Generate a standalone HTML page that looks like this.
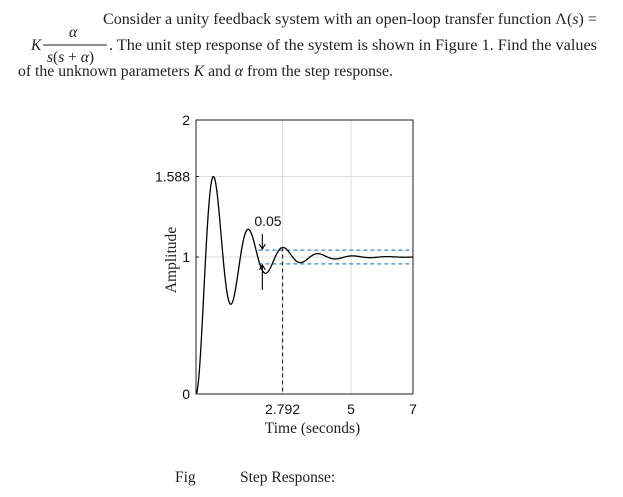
<!DOCTYPE html>
<html><head><meta charset="utf-8"><style>
body{margin:0;background:#fff;width:623px;height:497px;overflow:hidden}
svg{display:block}
.s{font-family:"Liberation Serif",serif;font-size:15.5px;fill:#222}
.t{font-family:"Liberation Sans",sans-serif;font-size:14px;fill:#111}
</style></head><body>
<svg width="623" height="497">
<g>
<text class="s" x="103" y="24" textLength="494" lengthAdjust="spacingAndGlyphs">Consider a unity feedback system with an open-loop transfer function Λ(<tspan font-style="italic">s</tspan>) =</text>
<text class="s" x="31" y="50" font-style="italic">K</text>
<text class="s" x="69" y="37" font-style="italic" font-size="13">α</text>
<line x1="43" y1="45" x2="107" y2="45" stroke="#222" stroke-width="0.9"/>
<text class="s" x="47" y="62"><tspan font-style="italic">s</tspan>(<tspan font-style="italic">s</tspan> + <tspan font-style="italic">α</tspan>)</text>
<text class="s" x="109" y="50" textLength="488" lengthAdjust="spacingAndGlyphs">. The unit step response of the system is shown in Figure 1. Find the values</text>
<text class="s" x="18" y="76" textLength="375" lengthAdjust="spacingAndGlyphs">of the unknown parameters <tspan font-style="italic">K</tspan> and <tspan font-style="italic">α</tspan> from the step response.</text>
</g>
<g id="chart"></g>
<text class="s" x="175" y="482">Fig</text>
<text class="s" x="240" y="482">Step Response:</text>
</svg>
<script>
const zeta=[0.167];
const wnat=[5.68];
const yTicks=[0,1,1.588,2];
const yTickLabels=["0","1","1.588","2"];
const xTicks=[2.792,5,7];
const xTickLabels=["2.792","5","7"];
const settleBand=[0.95,1.05];
const settleTime=[2.792];
const arrowTime=[2.14];
const X0=196,X1=413,Y0=394,Y1=120,TMAX=7,YMAX=2;
const sx=t=>X0+(X1-X0)*t/TMAX, sy=v=>Y0-(Y0-Y1)*v/YMAX;
const NS="http://www.w3.org/2000/svg";
const g=document.getElementById('chart');
function mk(tag,a){const e=document.createElementNS(NS,tag);for(const k in a)e.setAttribute(k,a[k]);g.appendChild(e);return e;}
yTicks.forEach((v,i)=>{if(v>0&&v<YMAX){const l=mk('line',{x1:X0,x2:X1,y1:sy(v),y2:sy(v),stroke:'#ddd','stroke-width':1});

}});
xTicks.forEach(v=>{if(v<TMAX){const l=mk('line',{x1:sx(v),x2:sx(v),y1:Y0,y2:Y1,stroke:'#ddd','stroke-width':1});

}});
const z=zeta[0],wn=wnat[0],wd=wn*Math.sqrt(1-z*z),ph=Math.acos(z);
const resp=t=>1-Math.exp(-z*wn*t)/Math.sqrt(1-z*z)*Math.sin(wd*t+ph);
let d='';for(let i=0;i<=700;i++){const t=i*TMAX/700;d+=(i?'L':'M')+sx(t).toFixed(2)+','+sy(resp(t)).toFixed(2);}
settleBand.forEach(v=>{const l=mk('line',{x1:sx(arrowTime[0])-4,x2:X1,y1:sy(v),y2:sy(v),stroke:'#3a8bc0','stroke-width':1.2,'stroke-dasharray':'4,3'});

});
const c=mk('path',{d:d,fill:'none',stroke:'#000','stroke-width':1.3});


const ts=settleTime[0];
const vl=mk('line',{x1:sx(ts),x2:sx(ts),y1:sy(resp(ts)),y2:Y0,stroke:'#333','stroke-width':1.2,'stroke-dasharray':'4,3'});


const ax=sx(arrowTime[0]);
const a1=mk('path',{d:`M${ax},${sy(1.05)-16}L${ax},${sy(1.05)-1}M${ax-3},${sy(1.05)-6}L${ax},${sy(1.05)-1}L${ax+3},${sy(1.05)-6}`,stroke:'#000',fill:'none','stroke-width':1.1});


const a2=mk('path',{d:`M${ax},${sy(0.95)+26}L${ax},${sy(0.95)+1}M${ax-3},${sy(0.95)+6}L${ax},${sy(0.95)+1}L${ax+3},${sy(0.95)+6}`,stroke:'#000',fill:'none','stroke-width':1.1});


const bl=mk('text',{x:ax-8,y:sy(1.05)-24,class:'t'});bl.textContent='0.05';


const bx=mk('rect',{x:X0,y:Y1,width:X1-X0,height:Y0-Y1,fill:'none',stroke:'#222','stroke-width':1});


yTicks.forEach((v,i)=>{const t=mk('text',{x:X0-6,y:sy(v)+5,class:'t','text-anchor':'end'});t.textContent=yTickLabels[i];


const k=mk('line',{x1:X0,x2:X0+3,y1:sy(v),y2:sy(v),stroke:'#222'});

});
xTicks.forEach((v,i)=>{const t=mk('text',{x:sx(v),y:Y0+20,class:'t','text-anchor':'middle'});t.textContent=xTickLabels[i];

});
const yl=mk('text',{x:0,y:0,class:'s','text-anchor':'middle',transform:`translate(176,${(Y0+Y1)/2+3}) rotate(-90)`,'font-size':'18'});yl.textContent='Amplitude';


const xl=mk('text',{x:(X0+X1)/2+8,y:Y0+39,class:'s','text-anchor':'middle','font-size':'18'});xl.textContent='Time (seconds)';


</script>
</body></html>
